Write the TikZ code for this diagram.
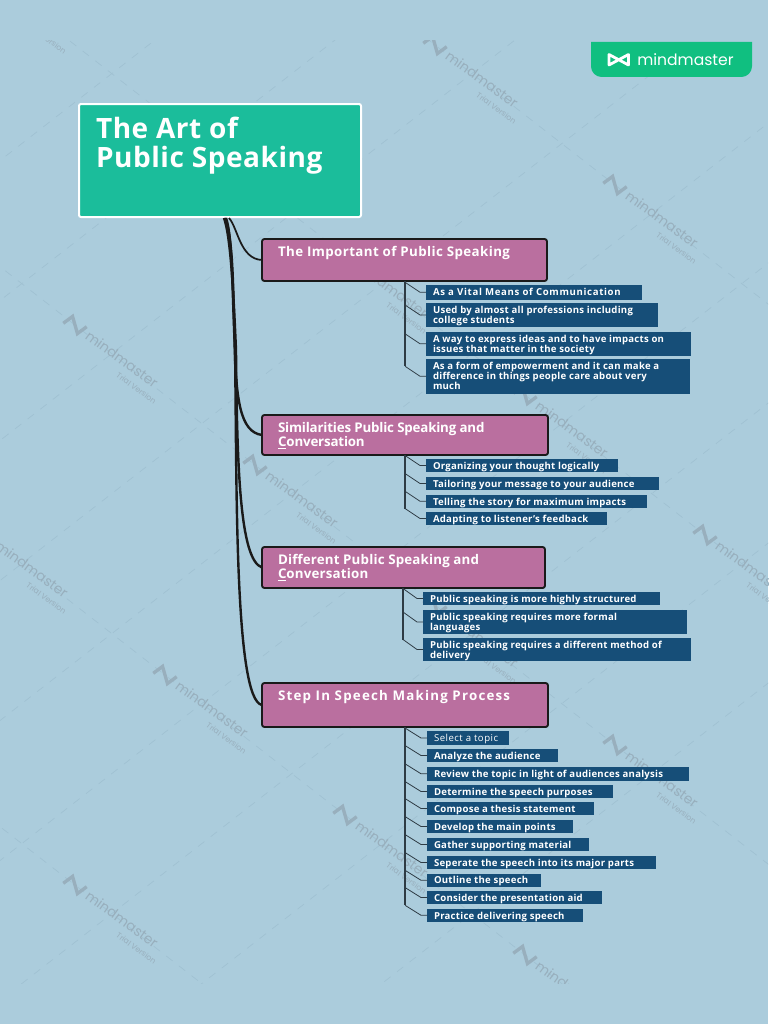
\documentclass[tikz,border=0pt]{standalone}
\usepackage{fontspec}
\usetikzlibrary{calc}
\setmainfont{Open Sans}
\newfontfamily\logofont{Poppins}
\definecolor{bgc}{HTML}{ABCCDC}
\definecolor{wmc}{HTML}{98AFBD}
\definecolor{dashc}{HTML}{A0C1D2}
\definecolor{rootc}{HTML}{1BBD9B}
\definecolor{mainc}{HTML}{BA6F9F}
\definecolor{leafc}{HTML}{164E78}
\definecolor{logoc}{HTML}{10BF80}
\definecolor{inkc}{HTML}{1A1A1A}
\definecolor{spinec}{HTML}{2E3B44}
\tikzset{
  rootbox/.style={fill=rootc,draw=white,line width=1.5pt,rounded corners=1.5pt,inner sep=0pt,outer sep=0pt,text=white,anchor=north west},
  mainbox/.style={fill=mainc,draw=inkc,line width=1.4pt,rounded corners=1.8pt,inner sep=0pt,outer sep=0pt,text=white,anchor=north west},
  leafbox/.style={fill=leafc,inner sep=0pt,outer sep=0pt,text=white,anchor=north west},
  trunk/.style={draw=inkc,line width=1.8pt},
  trunkthin/.style={draw=inkc,line width=1.3pt},
  twig/.style={draw=spinec,line width=.6pt,line join=round},
  spine/.style={draw=spinec,line width=.9pt},
}
% #1 width px, #2 height px, #3 left pad px, #4 top pad px, #5 font pt, #6 baseline pt, #7 letterspacing, #8 text
\newcommand{\inbox}[8]{\parbox[c][\dimexpr #2pt*3/4\relax][t]{\dimexpr #1pt*3/4\relax}{\vspace*{\dimexpr #4pt*3/4\relax}\addfontfeature{LetterSpace=#7}\fontsize{#5}{#6}\selectfont\raggedright\leftskip=\dimexpr #3pt*3/4\relax\relax #8\par}}
% [letterspacing] name x1 y1 x2 y2 text
\newcommand{\leafnode}[7][2.6]{%
  \pgfmathsetmacro\bw{#5-#3}\pgfmathsetmacro\bh{#6-#4}%
  \node[leafbox] (#2) at (#3,#4) {\inbox{\bw}{\bh}{7}{3}{7.2}{7.7}{#1}{\bfseries #7}};}
\newcommand{\mainnode}[7][3]{%
  \pgfmathsetmacro\bw{#5-#3}\pgfmathsetmacro\bh{#6-#4}%
  \node[mainbox] (#2) at (#3,#4) {\inbox{\bw}{\bh}{16}{7.5}{10}{10.5}{#1}{\bfseries #7}};}
% spine start coordinate, leaf
\newcommand{\twiglink}[2]{%
  \coordinate (twigtop) at ($(#2.west)+(0,-10)$);
  \draw[twig] (#1 |- twigtop) -- ($(#2.west)+(-6,0)$) -- (#2.west);}
\begin{document}
\begin{tikzpicture}[x=.75pt,y=-.75pt]
\useasboundingbox (0,0) rectangle (768,1024);
\fill[bgc] (0,0) rectangle (768,1024);
\begin{scope}
\clip (0,41) rectangle (768,983);
% faint dashed grid
\foreach \j in {-6,...,8}{
  \draw[dashc,line width=.5pt,dash pattern=on 6pt off 6pt]
    ($(75,325)+\j*(90,-210)+(-1800,-1400)$) -- ($(75,325)+\j*(90,-210)+(1800,1400)$);
  \draw[dashc,line width=.5pt,dash pattern=on 6pt off 6pt]
    ($(110,355)+\j*(90,-210)+(-1800,1400)$) -- ($(110,355)+\j*(90,-210)+(1800,-1400)$);
}
% watermarks
\foreach \wx/\wy [count=\n] in {435/45,615/185,165/115,345/255,525/395,705/535,75/325,255/465,435/605,615/745,-15/535,165/675,345/815,525/955,75/885}{
  \begin{scope}[shift={(\wx,\wy)},rotate=-36]
    \draw[wmc,line width=2.5pt,line join=miter] (-10.5,5.5)--(-7,-5.5)--(7,5.5)--(10.5,-5.5);
    \node[transform shape,anchor=west,text=wmc,inner sep=0pt] (wmark\n) at (15,0) {\logofont\fontsize{10.4}{11}\selectfont mindmaster};
    \node[transform shape,anchor=west,text=wmc,inner sep=0pt] (wtrial\n) at (63,15) {\logofont\fontsize{5.8}{6}\selectfont Trial Version};
  \end{scope}
}
\begin{scope}[shift={(-15,-25)},rotate=-36]
  \node[transform shape,anchor=west,text=wmc,inner sep=0pt] (wtrialtop) at (63,15) {\logofont\fontsize{5.8}{6}\selectfont Trial Version};
\end{scope}
\end{scope}
% logo
\fill[logoc] (591,42) -- (752,42) [rounded corners=8pt] -- (752,77) -- (591,77) [sharp corners] -- cycle;
\draw[white,line width=2.1pt,line join=round] (609,54.5) -- (628.5,65) -- (628.5,54.5) -- (609,65) -- cycle;
\node[anchor=west,text=white,inner sep=0pt] (brand) at (637,59.5) {\logofont\fontsize{11.7}{13}\selectfont mindmaster};
% nodes
\node[rootbox] (root) at (79,104) {\inbox{282}{113}{17}{13}{21}{22}{2}{\bfseries The Art of\\Public Speaking}};
\mainnode{ma}{262}{239}{547}{281}{The Important of Public Speaking}
\mainnode[-1.4]{mb}{262}{415}{548}{455}{Similarities Public Speaking and\\\underline{C}onversation}
\mainnode[1.3]{mc}{262}{547}{545}{588}{Different Public Speaking and\\\underline{C}onversation}
\mainnode[9]{md}{262}{683}{548}{727}{Step In Speech Making Process}
\leafnode[7]{a1}{426}{285}{642}{299.5}{As a Vital Means of Communication}
\leafnode{a2}{426}{303}{658}{327}{Used by almost all professions including\\college students}
\leafnode{a3}{426}{332}{691}{355.5}{A way to express ideas and to have impacts on\\issues that matter in the society}
\leafnode{a4}{426}{359}{690}{393.5}{As a form of empowerment and it can make a\\difference in things people care about very\\much}
\leafnode{b1}{426}{459}{618}{472}{Organizing your thought logically}
\leafnode{b2}{426}{477}{659}{490}{Tailoring your message to your audience}
\leafnode{b3}{426}{495}{647}{507.5}{Telling the story for maximum impacts}
\leafnode{b4}{426}{512}{607}{525}{Adapting to listener's feedback}
\leafnode{c1}{423}{592}{660}{605}{Public speaking is more highly structured}
\leafnode{c2}{423}{610}{687}{634}{Public speaking requires more formal\\languages}
\leafnode{c3}{423}{638}{691}{661}{Public speaking requires a different method of\\delivery}
\node[leafbox] (d1) at (427,731) {\inbox{82}{14}{7}{3}{7.2}{7.7}{5}{Select a topic}};
\leafnode{d2}{427}{749}{558}{762}{Analyze the audience}
\leafnode{d3}{427}{767}{689}{780.5}{Review the topic in light of audiences analysis}
\leafnode{d4}{427}{785}{613}{798}{Determine the speech purposes}
\leafnode{d5}{427}{802}{594}{815}{Compose a thesis statement}
\leafnode{d6}{427}{820}{573}{833}{Develop the main points}
\leafnode{d7}{427}{838}{589}{851}{Gather supporting material}
\leafnode{d8}{427}{856}{656}{869}{Seperate the speech into its major parts}
\leafnode{d9}{427}{873.5}{541}{887}{Outline the speech}
\leafnode{d10}{427}{891}{602}{904}{Consider the presentation aid}
\leafnode{d11}{427}{909}{583}{921.5}{Practice delivering speech}
% trunk connectors
\draw[trunkthin] ($(root.south west)+(150,1)$) .. controls (238,228) and (240,259) .. (ma.west);
\draw[trunk] ($(root.south west)+(147,1)$) .. controls (232,235) and (232,280) .. (234.5,340) .. controls (236,400) and (240,432) .. (mb.west);
\draw[trunk] ($(root.south west)+(145,1)$) .. controls (230,235) and (233,280) .. (236,350) .. controls (237,470) and (240,560) .. (mc.west);
\draw[trunk] ($(root.south west)+(146,1)$) .. controls (234,240) and (233,300) .. (235,350) .. controls (237,480) and (234,700) .. (md.west);
% spines
\coordinate (sa) at ($(ma.south west)+(143,0)$);
\coordinate (sb) at ($(mb.south west)+(143,0)$);
\coordinate (sc) at ($(mc.south west)+(141,0)$);
\coordinate (sd) at ($(md.south west)+(143,0)$);
\coordinate (ea) at ($(a4.west)+(0,-10)$);
\coordinate (eb) at ($(b4.west)+(0,-10)$);
\coordinate (ec) at ($(c3.west)+(0,-10)$);
\coordinate (ed) at ($(d11.west)+(0,-10)$);
\draw[spine] (sa) -- (sa |- ea);
\foreach \l in {a1,a2,a3,a4}{\twiglink{sa}{\l}}
\draw[spine] (sb) -- (sb |- eb);
\foreach \l in {b1,b2,b3,b4}{\twiglink{sb}{\l}}
\draw[spine] (sc) -- (sc |- ec);
\foreach \l in {c1,c2,c3}{\twiglink{sc}{\l}}
\draw[spine] (sd) -- (sd |- ed);
\foreach \l in {d1,d2,d3,d4,d5,d6,d7,d8,d9,d10,d11}{\twiglink{sd}{\l}}
\end{tikzpicture}
\end{document}
